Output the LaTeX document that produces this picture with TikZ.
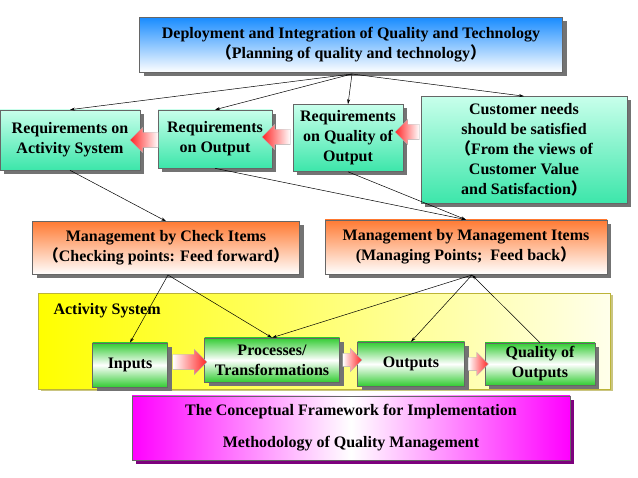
\documentclass[tikz,border=0pt]{standalone}
\usepackage{fontspec}
\setmainfont{Liberation Serif}
\newfontfamily\cjk{Noto Sans CJK SC}
\usetikzlibrary{shapes.arrows,shadows,arrows.meta}
\newcommand{\lp}{{\cjk （}}
\newcommand{\rp}{{\cjk ）}}
\definecolor{aqua}{RGB}{60,230,170}
\definecolor{aqual}{RGB}{200,255,235}
\begin{document}
\begin{tikzpicture}[x=1pt,y=-1pt,
  bx/.style={draw=black!60,line width=0.6pt,drop shadow={shadow xshift=4pt,shadow yshift=-4pt,fill=black!55,opacity=1},
    font=\bfseries\fontsize{16}{20}\selectfont,align=center,inner sep=1pt},
  teal/.style={bx,top color=aqual,bottom color=aqua},
  grn/.style={bx,top color=green!75!black!80,bottom color=green!75!black!80,middle color=white},
  org/.style={bx,top color=orange!70!red!80,bottom color=white},
  ln/.style={-{Stealth[length=5pt,width=3pt]},line width=0.5pt},
  barrow/.style={single arrow,draw=black!30,left color=white,right color=red!85,single arrow head extend=5pt,minimum height=28pt,inner sep=0pt,line width=0.3pt},
  barrowl/.style={barrow,shape border rotate=180,left color=red!85,right color=white}]
\useasboundingbox (0,0) rectangle (638,478);
\path[fill=white] (0,0) rectangle (638,478);
% Activity system background
\node[draw=yellow!70!black,line width=0.6pt,left color=yellow,right color=yellow!8,minimum width=572pt,minimum height=96pt,anchor=north west,inner sep=0pt,
 drop shadow={shadow xshift=3pt,shadow yshift=-2pt,fill=yellow!60!black!60,opacity=1}] (act) at (38,293) {};
\node[font=\bfseries\fontsize{16}{20}\selectfont,anchor=west] (actl) at (50,311) {Activity System};
% top
\node[bx,top color=blue!50!cyan!90,bottom color=white,minimum width=423pt,minimum height=55pt] (top) at (351,45)
 {Deployment and Integration of Quality and Technology\\ \lp Planning of quality and technology\rp};
\node[teal,minimum width=140pt,minimum height=60pt] (ra) at (70,140) {Requirements on\\Activity System};
\node[teal,minimum width=114pt,minimum height=58pt] (ro) at (215,139) {Requirements\\on Output};
\node[teal,minimum width=110pt,minimum height=67pt] (rq) at (348,138) {Requirements\\on Quality of\\Output};
\node[teal,minimum width=206pt,minimum height=107pt] (cu) at (524,150) {Customer needs\\should be satisfied\\\lp From the views of\\Customer Value\\and Satisfaction\rp};
\node[barrowl,minimum height=24pt] (a1) at (411,132) {\rule{0pt}{15pt}};
\node[barrowl] (a2) at (280,137) {\rule{0pt}{15pt}};
\node[barrowl] (a3) at (148,140) {\rule{0pt}{15pt}};
\node[org,minimum width=267pt,minimum height=53pt] (ck) at (166,248) {Management by Check Items\\\lp Checking points: Feed forward\rp};
\node[org,minimum width=282pt,minimum height=54pt] (mi) at (466,247) {Management by Management Items\\(Managing Points;\ \ Feed back\rp};
\node[grn,minimum width=75pt,minimum height=44pt] (in) at (130,365) {Inputs};
\node[grn,minimum width=135pt,minimum height=44pt] (pr) at (272,360) {Processes/\\Transformations};
\node[grn,minimum width=107pt,minimum height=44pt] (ou) at (411,364) {Outputs};
\node[grn,minimum width=110pt,minimum height=42pt] (qo) at (540,364) {Quality of\\Outputs};
\node[barrow,minimum height=34pt] (b1) at (186,362) {\rule{0pt}{15pt}};
\node[barrow,minimum height=19pt] (b2) at (349,360) {\rule{0pt}{13pt}};
\node[barrow,minimum height=20pt] (b3) at (475,364) {\rule{0pt}{13pt}};
\node[bx,left color=magenta,right color=magenta,middle color=white,minimum width=438pt,minimum height=64pt,
 drop shadow={shadow xshift=4pt,shadow yshift=-4pt,fill=violet!60!magenta!70!black,opacity=1},font=\bfseries\fontsize{16}{32}\selectfont] (mg) at (351,428)
 {The Conceptual Framework for Implementation\\Methodology of Quality Management};
% connectors
\coordinate (tb) at (352,74);
\draw[ln] (tb) -- (ra.north);
\draw[ln] (tb) -- (ro.north);
\draw[ln] (tb) -- (rq.north);
\draw[ln] (tb) -- (cu.north);
\draw[ln] (ra.south) -- (ck.north);
\draw[ln] (ro.south) -- (mi.north);
\draw[ln] (rq.south) -- (mi.north);
\coordinate (cb) at (168,275);
\coordinate (mb) at (472,275);
\draw[ln] (cb) -- (in.north);
\draw[ln] (cb) -- (pr.north);
\draw[ln] (mb) -- (pr.north);
\draw[ln] (mb) -- (ou.north);
\draw[ln] (qo.north) -- (mb);
\end{tikzpicture}
\end{document}
